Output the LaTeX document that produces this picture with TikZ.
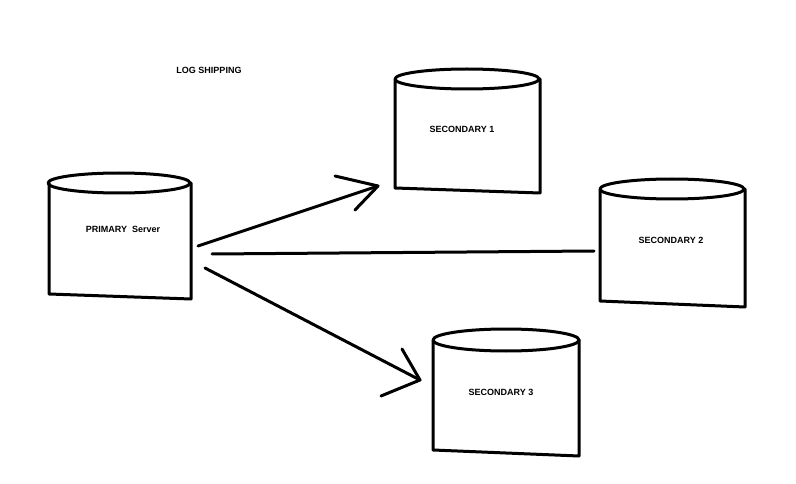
\documentclass[tikz,border=0pt]{standalone}
\usepackage{fontspec}
\setmainfont{Liberation Sans}
\begin{document}
\begin{tikzpicture}[x=1pt,y=-1pt,
  stroke/.style={line width=3pt,line cap=round,line join=round},
  lbl/.style={font=\bfseries\fontsize{9}{11}\selectfont}]
\useasboundingbox (0,0) rectangle (796,484);
% Primary
\draw[stroke] (119,183) ellipse [x radius=71,y radius=10];
\draw[stroke] (49,183) -- (49,294) -- (191,299) -- (191,183);
% Secondary 1
\draw[stroke] (467,79) ellipse [x radius=72,y radius=10];
\draw[stroke] (395,79) -- (395,188) -- (540,193) -- (540,79);
% Secondary 2
\draw[stroke] (672,189) ellipse [x radius=72,y radius=10];
\draw[stroke] (600,189) -- (600,301) -- (745,307) -- (745,189);
% Secondary 3
\draw[stroke] (506,340) ellipse [x radius=73,y radius=11];
\draw[stroke] (433,340) -- (433,450) -- (579,456) -- (579,340);
% labels
\node[lbl] (title) at (209,70) {LOG SHIPPING};
\node[lbl] (p) at (123,229) {PRIMARY\ \ Server};
\node[lbl] (s1) at (462,129) {SECONDARY 1};
\node[lbl] (s2) at (671,240) {SECONDARY 2};
\node[lbl] (s3) at (501,392) {SECONDARY 3};
% connectors
\coordinate (a1s) at (198,246); \coordinate (a1e) at (378,186);
\coordinate (a2s) at (212,254); \coordinate (a2e) at (594,251);
\coordinate (a3s) at (205,268); \coordinate (a3e) at (420,380);
\draw[stroke] (a1s) -- (a1e);
\draw[stroke] (335,176) -- (a1e) -- (355,210);
\draw[stroke] (a2s) -- (a2e);
\draw[stroke] (a3s) -- (a3e);
\draw[stroke] (402,349) -- (a3e) -- (381,396);
\end{tikzpicture}
\end{document}
